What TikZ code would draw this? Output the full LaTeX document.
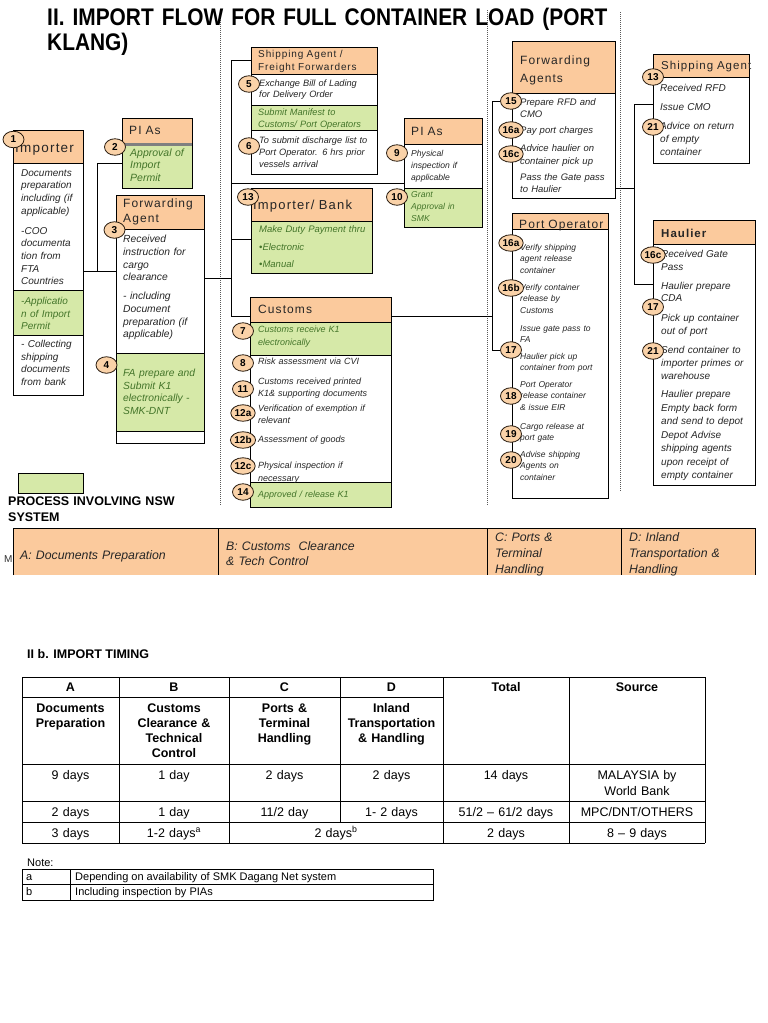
\documentclass[tikz,border=0pt]{standalone}
\usepackage{fontspec}
\setmainfont{Liberation Sans}
\newfontfamily\titlefont[FakeStretch=0.87]{Liberation Sans}
\newfontfamily\hfont[LetterSpace=9]{Liberation Sans}
\usetikzlibrary{shapes.geometric}
\definecolor{hdr}{HTML}{FBCA9D}
\definecolor{circ}{HTML}{FAD2A8}
\definecolor{nsw}{HTML}{D6E9A8}
\definecolor{gtc}{HTML}{44752A}
\definecolor{txtc}{HTML}{262626}
\pgfdeclarelayer{bgzero}
\pgfdeclarelayer{background}
\pgfsetlayers{bgzero,background,main}
\newcommand\myfs[2]{\fontsize{#1}{#2}\selectfont}
\begin{document}
\begin{tikzpicture}[x=1pt,y=-1pt,
  sect/.style={draw=black, line width=0.8pt, anchor=north west, inner sep=0pt, outer sep=0pt},
  hsec/.style={sect, fill=hdr},
  gsec/.style={sect, fill=nsw},
  wsec/.style={sect, fill=white},
  tx/.style={anchor=base west, inner sep=0pt, align=left, text width=170pt, text=txtc},
  gx/.style={tx, text=gtc},
  hd/.style={anchor=base west, inner sep=0pt, align=left, text width=170pt, text=black!85},
  num/.style={ellipse, draw=black!80!brown, fill=circ, line width=0.8pt, inner sep=0.3pt,
    minimum width=21pt, minimum height=16.5pt, font=\bfseries\myfs{10}{10}},
  conn/.style={draw=black, line width=0.8pt},
  dots/.style={draw=black!65, line width=0.8pt, dash pattern=on 1pt off 1pt},
  tc/.style={anchor=base, inner sep=0pt, align=center, text width=130pt, font=\myfs{12.5}{15.3}},
  tb/.style={tc, font=\bfseries\myfs{12.5}{15.3}},
  tl/.style={draw=black, line width=0.9pt}
]
\useasboundingbox (0,0) rectangle (768,1023);
\begin{pgfonlayer}{bgzero}
\fill[white] (0,0) rectangle (768,1023);
\end{pgfonlayer}

% ---------- title ----------
\node[anchor=base west, inner sep=0pt, align=left, text width=700pt,
  font=\titlefont\bfseries\myfs{24}{25}] (title) at (47,25)
  {II. IMPORT FLOW FOR FULL CONTAINER LOAD (PORT\\KLANG)};

% ---------- boxes ----------
% Importer
\node[hsec, minimum width=70pt, minimum height=33pt] (impH) at (13,130) {};
\node[wsec, minimum width=70pt, minimum height=127pt] (impW) at (13,163) {};
\node[gsec, minimum width=70pt, minimum height=45pt] (impG) at (13,290) {};
\node[wsec, minimum width=70pt, minimum height=60pt] (impW2) at (13,335) {};
% PI As (left)
\node[hsec, minimum width=70pt, minimum height=25pt] (piH) at (122,118) {};
\node[gsec, minimum width=70pt, minimum height=45pt] (piG) at (122,143) {};
\draw[gray, line width=2.2pt] ([yshift=-1.5pt]piG.north west) -- ([yshift=-1.5pt]piG.north east);
% Forwarding Agent (left)
\node[hsec, minimum width=88pt, minimum height=34pt] (faH) at (116,195) {};
\node[wsec, minimum width=88pt, minimum height=124pt] (faW) at (116,229) {};
\node[gsec, minimum width=88pt, minimum height=78pt] (faG) at (116,353) {};
\node[wsec, minimum width=88pt, minimum height=12pt] (faW2) at (116,431) {};
% Shipping Agent / Freight Forwarders
\node[hsec, minimum width=126pt, minimum height=27pt] (saH) at (251,47) {};
\node[wsec, minimum width=126pt, minimum height=31pt] (saW) at (251,74) {};
\node[gsec, minimum width=126pt, minimum height=25pt] (saG) at (251,105) {};
\node[wsec, minimum width=126pt, minimum height=44pt] (saW2) at (251,130) {};
% Importer / Bank
\node[hsec, minimum width=121pt, minimum height=33pt] (ibH) at (251,188) {};
\node[gsec, minimum width=121pt, minimum height=52pt] (ibG) at (251,221) {};
% PI As (middle)
\node[hsec, minimum width=78pt, minimum height=26pt] (pi2H) at (404,118) {};
\node[wsec, minimum width=78pt, minimum height=44pt] (pi2W) at (404,144) {};
\node[gsec, minimum width=78pt, minimum height=39pt] (pi2G) at (404,188) {};
% Customs
\node[hsec, minimum width=141pt, minimum height=25pt] (cuH) at (250,297) {};
\node[gsec, minimum width=141pt, minimum height=33pt] (cuG) at (250,322) {};
\node[wsec, minimum width=141pt, minimum height=127pt] (cuW) at (250,355) {};
\node[gsec, minimum width=141pt, minimum height=25pt] (cuG2) at (250,482) {};
% Forwarding Agents (right)
\node[hsec, minimum width=103pt, minimum height=52pt] (fa2H) at (512,41) {};
\node[wsec, minimum width=103pt, minimum height=105pt] (fa2W) at (512,93) {};
% Port Operator
\node[hsec, minimum width=96pt, minimum height=16pt] (poH) at (512,213) {};
\node[wsec, minimum width=96pt, minimum height=269pt] (poW) at (512,229) {};
% Shipping Agent (right)
\node[hsec, minimum width=96pt, minimum height=23pt] (sa2H) at (653,54) {};
\node[wsec, minimum width=96pt, minimum height=86pt] (sa2W) at (653,77) {};
% Haulier
\node[hsec, minimum width=102pt, minimum height=24pt] (haH) at (653,220) {};
\node[wsec, minimum width=102pt, minimum height=241pt] (haW) at (653,244) {};

% ---------- texts ----------
% Importer
\node[hd, font=\hfont\myfs{13.5}{15}] (impT) at (15,152.5) {Importer};
\node[tx, font=\itshape\myfs{10}{12.9}] (impt1) at (21,176) {Documents\\preparation\\including (if\\applicable)};
\node[tx, font=\itshape\myfs{10}{12.7}] (impt2) at (21,234) {-COO\\documenta\\tion from\\FTA\\Countries};
\node[gx, font=\itshape\myfs{10}{12.5}] (impt3) at (21,304.5) {-Applicatio\\n of Import\\Permit};
\node[tx, font=\itshape\myfs{10}{12.5}] (impt4) at (21,347.5) {- Collecting\\shipping\\documents\\from bank};
% PI As left
\node[hd, font=\hfont\myfs{12}{14}] (piT) at (129,134.5) {PI As};
\node[gx, font=\itshape\myfs{10.5}{12.5}] (pit1) at (130,156) {Approval of\\Import\\Permit};
% FA left
\node[hd, font=\hfont\myfs{12}{14.5}] (faT) at (123,207.5) {Forwarding\\Agent};
\node[tx, font=\itshape\myfs{10.3}{12.8}] (fat1) at (123,242.5) {Received\\instruction for\\cargo\\clearance};
\node[tx, font=\itshape\myfs{10.3}{12.8}] (fat2) at (123,299.5) {- including\\Document\\preparation (if\\applicable)};
\node[gx, font=\itshape\myfs{10.3}{12.7}] (fat3) at (123,376.5) {FA prepare and\\Submit K1\\electronically -\\SMK-DNT};
% SA / FF
\node[hd, font=\hfont\myfs{10}{12.5}] (saT) at (258,57.5) {Shipping Agent /\\Freight Forwarders};
\node[tx, font=\itshape\myfs{9.2}{11.3}] (sat1) at (259,86.5) {Exchange Bill of Lading\\for Delivery Order};
\node[gx, font=\itshape\myfs{9.2}{12}] (sat2) at (258,115) {Submit Manifest to\\Customs/ Port Operators};
\node[tx, font=\itshape\myfs{9.2}{12}] (sat3) at (259,143.5) {To submit discharge list to\\Port Operator. 6 hrs prior\\vessels arrival};
% Importer / Bank
\node[hd, font=\hfont\myfs{13}{15}] (ibT) at (253,209.7) {Importer/ Bank};
\node[gx, font=\itshape\myfs{9.5}{17.5}] (ibt1) at (259,232.5) {Make Duty Payment thru\\•Electronic\\•Manual};
% PI As middle
\node[hd, font=\hfont\myfs{12}{14}] (pi2T) at (411,135.3) {PI As};
\node[tx, font=\itshape\myfs{8.6}{12}] (pi2t1) at (411,156.5) {Physical\\inspection if\\applicable};
\node[gx, font=\itshape\myfs{8.6}{12}] (pi2t2) at (411,197.5) {Grant\\Approval in\\SMK};
% Customs
\node[hd, font=\hfont\myfs{12}{14}] (cuT) at (258,313.3) {Customs};
\node[gx, font=\itshape\myfs{9}{13}] (cut1) at (258,332.5) {Customs receive K1\\electronically};
\node[tx, font=\itshape\myfs{9}{12}] (cut2) at (258,364.5) {Risk assessment via CVI};
\node[tx, font=\itshape\myfs{9}{12}] (cut3) at (258,384.5) {Customs received printed\\K1\& supporting documents};
\node[tx, font=\itshape\myfs{9}{12}] (cut4) at (258,411.5) {Verification of exemption if\\relevant};
\node[tx, font=\itshape\myfs{9}{12}] (cut5) at (258,442.5) {Assessment of goods};
\node[tx, font=\itshape\myfs{9}{12.5}] (cut6) at (258,468.5) {Physical inspection if\\necessary};
\node[gx, font=\itshape\myfs{9}{12}] (cut7) at (258,497.5) {Approved / release K1};
% Forwarding Agents right
\node[hd, font=\hfont\myfs{12}{18}] (fa2T) at (520,64.3) {Forwarding\\Agents};
\node[tx, font=\itshape\myfs{9.5}{12}] (fa2t1) at (520,105.5) {Prepare RFD and\\CMO};
\node[tx, font=\itshape\myfs{9.5}{12}] (fa2t2) at (520,133.5) {Pay port charges};
\node[tx, font=\itshape\myfs{9.5}{12.5}] (fa2t3) at (520,151.5) {Advice haulier on\\container pick up};
\node[tx, font=\itshape\myfs{9.5}{11.7}] (fa2t4) at (520,180.5) {Pass the Gate pass\\to Haulier};
% Port Operator
\node[hd, font=\hfont\myfs{12}{14}] (poT) at (519,228.3) {Port Operator};
\node[tx, font=\itshape\myfs{8.5}{11.7}] (pot1) at (520,250.2) {Verify shipping\\agent release\\container};
\node[tx, font=\itshape\myfs{8.5}{11.7}] (pot2) at (520,290.2) {Verify container\\release by\\Customs};
\node[tx, font=\itshape\myfs{8.5}{11.7}] (pot3) at (520,331.2) {Issue gate pass to\\FA};
\node[tx, font=\itshape\myfs{8.5}{11.7}] (pot4) at (520,359.2) {Haulier pick up\\container from port};
\node[tx, font=\itshape\myfs{8.5}{11.7}] (pot5) at (520,387.2) {Port Operator\\release container\\\& issue EIR};
\node[tx, font=\itshape\myfs{8.5}{11.7}] (pot6) at (520,429.2) {Cargo release at\\port gate};
\node[tx, font=\itshape\myfs{8.5}{11.7}] (pot7) at (520,457.2) {Advise shipping\\Agents on\\container};
% Shipping Agent right
\node[hd, font=\hfont\myfs{11.5}{14}] (sa2T) at (661,69.3) {Shipping Agent};
\node[tx, font=\itshape\myfs{10}{13}] (sa2t1) at (660,91.5) {Received RFD};
\node[tx, font=\itshape\myfs{10}{13}] (sa2t2) at (660,110.5) {Issue CMO};
\node[tx, font=\itshape\myfs{10}{13}] (sa2t3) at (660,129.5) {Advice on return\\of empty\\container};
% Haulier
\node[hd, font=\hfont\bfseries\myfs{11.5}{14}] (haT) at (661,237.3) {Haulier};
\node[tx, font=\itshape\myfs{10}{13}] (hat1) at (661,257.5) {Received Gate\\Pass};
\node[tx, font=\itshape\myfs{10}{11.5}] (hat2) at (661,289.5) {Haulier prepare\\CDA};
\node[tx, font=\itshape\myfs{10}{13}] (hat3) at (661,321.5) {Pick up container\\out of port};
\node[tx, font=\itshape\myfs{10}{13}] (hat4) at (661,353.5) {Send container to\\importer primes or\\warehouse};
\node[tx, font=\itshape\myfs{10}{13.5}] (hat5) at (661,397.5) {Haulier prepare\\Empty back form\\and send to depot};
\node[tx, font=\itshape\myfs{10}{13.3}] (hat6) at (661,438.5) {Depot Advise\\shipping agents\\upon receipt of\\empty container};

% ---------- step numbers ----------
\node[num] (c1) at (13.5,139.5) {1};
\node[num] (c2) at (115,147) {2};
\node[num] (c3) at (114.5,230) {3};
\node[num] (c4) at (106.5,365) {4};
\node[num] (c5) at (249,84) {5};
\node[num] (c6) at (249,146) {6};
\node[num] (c13a) at (248,197) {13};
\node[num] (c9) at (397,153) {9};
\node[num] (c10) at (397,197) {10};
\node[num] (c7) at (243,331) {7};
\node[num] (c8) at (243,363) {8};
\node[num] (c11) at (243,389) {11};
\node[num] (c12a) at (243,413) {12a};
\node[num] (c12b) at (243,440) {12b};
\node[num] (c12c) at (243,466) {12c};
\node[num] (c14) at (243,492) {14};
\node[num] (c15) at (511,101) {15};
\node[num] (c16a) at (511,130) {16a};
\node[num] (c16c) at (511,154) {16c};
\node[num] (p16a) at (511,243) {16a};
\node[num] (p16b) at (511,288) {16b};
\node[num] (p17) at (511,350) {17};
\node[num] (p18) at (511,396) {18};
\node[num] (p19) at (511,434) {19};
\node[num] (p20) at (511,460) {20};
\node[num] (s13) at (653,77) {13};
\node[num] (s21) at (653,127) {21};
\node[num] (h16c) at (653,255) {16c};
\node[num] (h17) at (653,307) {17};
\node[num] (h21) at (653,351) {21};

% ---------- connectors (behind) ----------
\coordinate (jA) at (97,271);
\coordinate (impOut) at (83,271);
\coordinate (faIn) at (116,271);
\coordinate (piIn) at (122,163);
\coordinate (jB) at (231,316);
\coordinate (faOut) at (204,278);
\coordinate (ibIn) at (251,239);
\coordinate (pi2In) at (404,183);
\coordinate (jC) at (492,316);
\coordinate (jD) at (634,188);
\coordinate (fa2Out) at (615,188);
\coordinate (sa2In) at (653,104);
\coordinate (haIn) at (653,284);
\coordinate (d1a) at (220,12); \coordinate (d1b) at (220,505);
\coordinate (d2a) at (487,10); \coordinate (d2b) at (487,505);
\coordinate (d3a) at (620,12); \coordinate (d3b) at (620,492);
\begin{pgfonlayer}{background}
\draw[dots] (d1a) -- (d1b);
\draw[dots] (d2a) -- (d2b);
\draw[dots] (d3a) -- (d3b);
\draw[conn] (impOut) -- (faIn);
\draw[conn] (piIn) -| (jA);
\draw[conn] (saH.west) -| (jB);
\draw[conn] (faOut) -| (jB);
\draw[conn] (ibIn) -| (jB);
\draw[conn] (pi2In) -| (jB);
\draw[conn] (jB) -- (jC);
\draw[conn] (c15.west) -| (jC);
\draw[conn] (p17.west) -| (jC);
\draw[conn] (fa2Out) -- (jD);
\draw[conn] (sa2In) -| (jD);
\draw[conn] (haIn) -| (jD);
\end{pgfonlayer}

% ---------- legend ----------
\node[sect, fill=nsw, minimum width=65pt, minimum height=20pt] (leg) at (18,473) {};
\node[anchor=base west, inner sep=0pt, align=left, text width=200pt,
  font=\bfseries\myfs{12.5}{16}] (legT) at (8,505.5) {PROCESS INVOLVING NSW\\SYSTEM};

% ---------- bottom band ----------
\node[anchor=base west, inner sep=0pt, font=\myfs{10}{12}, text=black!80] (mstray) at (4,562) {M};
\fill[hdr] (13,528) rectangle (755,575);
\draw[line width=0.9pt] (13,575) -- (13,528) -- (755,528) -- (755,575);
\draw[line width=0.9pt] (218,528) -- (218,575);
\draw[line width=0.9pt] (487,528) -- (487,575);
\draw[line width=0.9pt] (621,528) -- (621,575);
\node[tx, font=\itshape\myfs{12.3}{16}] (bA) at (20,559) {A: Documents Preparation};
\node[tx, font=\itshape\myfs{12.3}{15.5}] (bB) at (226,550) {B: Customs\ \ Clearance\\\& Tech Control};
\node[tx, font=\itshape\myfs{12.3}{16}] (bC) at (495,541) {C: Ports \&\\Terminal\\Handling};
\node[tx, font=\itshape\myfs{12.3}{16}] (bD) at (629,541) {D: Inland\\Transportation \&\\Handling};

% ---------- timing table ----------
\node[anchor=base west, inner sep=0pt, font=\bfseries\myfs{12.5}{15}] (ttl) at (27,658) {II b. IMPORT TIMING};
\draw[tl] (22,677) -- (705,677);
\draw[tl] (22,697) -- (443,697);
\draw[tl] (22,764) -- (705,764);
\draw[tl] (22,801) -- (705,801);
\draw[tl] (22,822) -- (705,822);
\draw[tl] (22,843) -- (705,843);
\draw[tl] (22,677) -- (22,843);
\draw[tl] (119,677) -- (119,843);
\draw[tl] (229,677) -- (229,843);
\draw[tl] (340,677) -- (340,822);
\draw[tl] (443,677) -- (443,843);
\draw[tl] (569,677) -- (569,843);
\draw[tl] (705,677) -- (705,843);
\node[tb] (hA) at (70.5,691) {A};
\node[tb] (hB) at (174,691) {B};
\node[tb] (hC) at (284.5,691) {C};
\node[tb] (hD) at (391.5,691) {D};
\node[tb] (hT) at (506,691) {Total};
\node[tb] (hS) at (637,691) {Source};
\node[tb] (hA2) at (70.5,712) {Documents\\Preparation};
\node[tb] (hB2) at (174,712) {Customs\\Clearance \&\\Technical\\Control};
\node[tb] (hC2) at (284.5,712) {Ports \&\\Terminal\\Handling};
\node[tb] (hD2) at (391.5,712) {Inland\\Transportation\\\& Handling};
\node[tc] (r1a) at (70.5,779) {9 days};
\node[tc] (r1b) at (174,779) {1 day};
\node[tc] (r1c) at (284.5,779) {2 days};
\node[tc] (r1d) at (391.5,779) {2 days};
\node[tc] (r1t) at (506,779) {14 days};
\node[tc, font=\myfs{12.5}{16.5}] (r1s) at (637,779) {MALAYSIA by\\World Bank};
\node[tc] (r2a) at (70.5,816) {2 days};
\node[tc] (r2b) at (174,816) {1 day};
\node[tc] (r2c) at (284.5,816) {11/2 day};
\node[tc] (r2d) at (391.5,816) {1- 2 days};
\node[tc] (r2t) at (506,816) {51/2 – 61/2 days};
\node[tc] (r2s) at (637,816) {MPC/DNT/OTHERS};
\node[tc] (r3a) at (70.5,837) {3 days};
\node[tc] (r3b) at (174,837) {1-2 days\textsuperscript{a}};
\node[tc] (r3c) at (336,837) {2 days\textsuperscript{b}};
\node[tc] (r3t) at (506,837) {2 days};
\node[tc] (r3s) at (637,837) {8 – 9 days};

% ---------- notes ----------
\node[anchor=base west, inner sep=0pt, font=\myfs{11}{13}] (note) at (27,866) {Note:};
\draw[tl] (22,869) rectangle (433,900);
\draw[tl] (22,884.5) -- (433,884.5);
\draw[tl] (70,869) -- (70,900);
\node[anchor=base west, inner sep=0pt, font=\myfs{11}{13}] (na) at (26,880) {a};
\node[anchor=base west, inner sep=0pt, font=\myfs{11}{13}] (nat) at (75,880) {Depending on availability of SMK Dagang Net system};
\node[anchor=base west, inner sep=0pt, font=\myfs{11}{13}] (nb) at (26,895.5) {b};
\node[anchor=base west, inner sep=0pt, font=\myfs{11}{13}] (nbt) at (75,895.5) {Including inspection by PIAs};
\end{tikzpicture}
\end{document}
